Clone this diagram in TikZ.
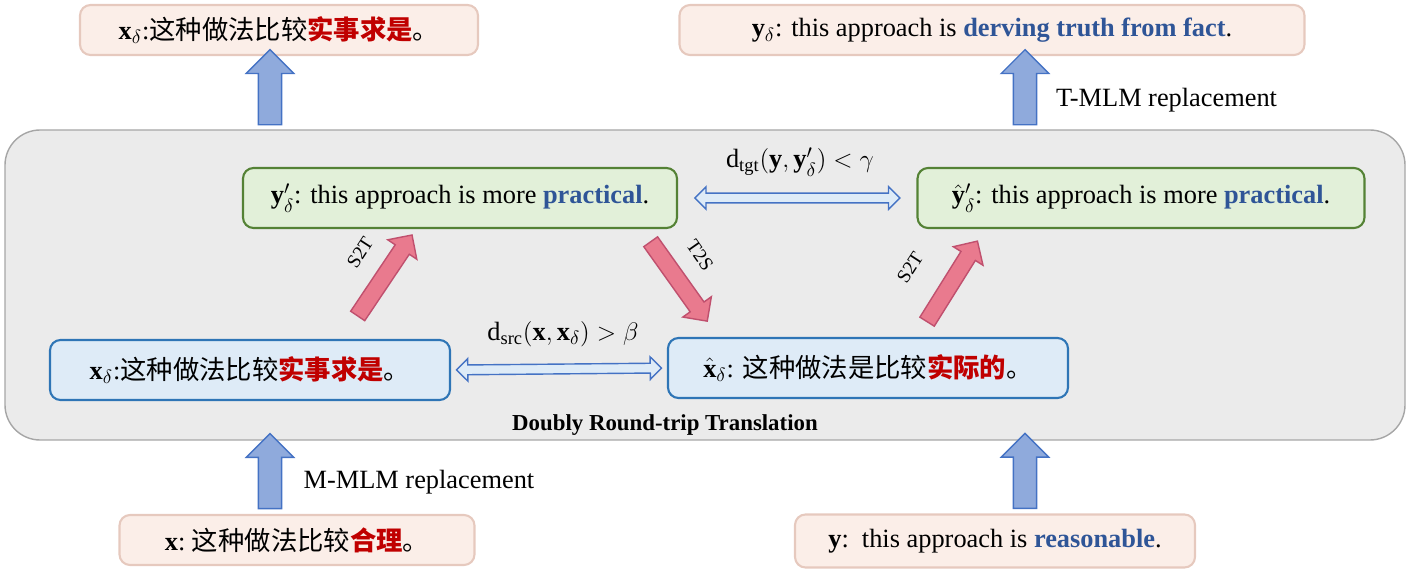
\documentclass[tikz,border=0pt]{standalone}
\usepackage{amsmath}
\usepackage{fontspec}
\setmainfont{Liberation Serif}
\newfontfamily\cjk{Noto Sans CJK SC}
\usetikzlibrary{shapes.arrows,calc}
\definecolor{pinkfill}{HTML}{FBEEE8}
\definecolor{pinkdraw}{HTML}{E6C9BE}
\definecolor{greenfill}{HTML}{E2F0D9}
\definecolor{greendraw}{HTML}{548235}
\definecolor{bluefill}{HTML}{DEEBF7}
\definecolor{bluedraw}{HTML}{2E75B6}
\definecolor{grayfill}{HTML}{EBEBEB}
\definecolor{arrfill}{HTML}{8FAADC}
\definecolor{arrdraw}{HTML}{4472C4}
\definecolor{redfill}{HTML}{E97A8E}
\definecolor{reddraw}{HTML}{C0506E}
\definecolor{hired}{HTML}{C00000}
\definecolor{hiblue}{HTML}{2F5597}
\tikzset{
  pinkbox/.style={draw=pinkdraw, fill=pinkfill, line width=1.2pt, rounded corners=6pt, minimum height=1cm, inner sep=0pt},
  greenbox/.style={draw=greendraw, fill=greenfill, line width=1.2pt, rounded corners=6pt, minimum height=1.2cm, inner sep=0pt},
  bluebox/.style={draw=bluedraw, fill=bluefill, line width=1.2pt, rounded corners=6pt, minimum height=1.2cm, inner sep=0pt},
  uparrow/.style={single arrow, draw=arrdraw, fill=arrfill, line width=0.8pt, minimum width=0.95cm, single arrow head extend=0.12cm, single arrow tip angle=90, inner sep=0.1cm, sloped},
  redarrow/.style={single arrow, draw=reddraw, fill=redfill, line width=0.8pt, minimum width=0.7cm, single arrow head extend=0.1cm, inner sep=0.08cm, sloped},
  dblarrow/.style={double arrow, draw=arrdraw, fill=bluefill, line width=0.8pt, minimum width=0.45cm, double arrow head extend=0.07cm, inner sep=0.04cm, sloped},
  trlabel/.style={font=\fontsize{11}{13}\selectfont, inner sep=1pt}
}
\newcommand{\rd}[1]{\textcolor{hired}{\bfseries #1}}
\newcommand{\bl}[1]{\textcolor{hiblue}{\bfseries #1}}
\begin{document}
\begin{tikzpicture}[font=\fontsize{15}{18}\selectfont]
\useasboundingbox (0,0) rectangle (28.18,11.46);
%Round-trip area
\draw[draw=gray!70, fill=grayfill, line width=0.8pt, rounded corners=20pt] (0.1,2.66) rectangle (28.1,8.86);
\node[font=\fontsize{13}{15}\selectfont\bfseries] (drt) at (13.3,2.96) {Doubly Round-trip Translation};
%Outer boxes
\node[pinkbox, minimum width=7.96cm] (tl) at (5.58,10.86) {$\mathbf{x}_\delta$:{\cjk 这种做法比较\rd{实事求是}。}};
\node[pinkbox, minimum width=12.5cm] (tr) at (19.84,10.86) {$\mathbf{y}_\delta$: this approach is \bl{derving truth from fact}.};
\node[pinkbox, minimum width=7.1cm] (bl) at (5.94,0.66) {$\mathbf{x}$:\ {\cjk 这种做法比较\rd{合理}。}};
\node[pinkbox, minimum width=8cm, minimum height=1.06cm] (br) at (19.9,0.64) {$\mathbf{y}$:\ \ this approach is \bl{reasonable}.};
%Inner boxes
\node[greenbox, minimum width=8.68cm] (g1) at (9.2,7.5) {$\mathbf{y}'_\delta$: this approach is more \bl{practical}.};
\node[greenbox, minimum width=8.94cm] (g2) at (22.82,7.5) {$\hat{\mathbf{y}}'_\delta$: this approach is more \bl{practical}.};
\node[bluebox, minimum width=8cm] (b1) at (5.0,4.06) {$\mathbf{x}_\delta$:{\cjk 这种做法比较\rd{实事求是}。}};
\node[bluebox, minimum width=8cm] (b2) at (17.36,4.1) {$\hat{\mathbf{x}}_\delta$: {\cjk 这种做法是比较\rd{实际的}。}};
%Vertical arrows
\coordinate (a1) at (5.4,8.86);
\coordinate (a2) at (20.5,8.86);
\coordinate (a3) at (5.4,2.66);
\coordinate (a4) at (20.5,2.66);
\path (a1) -- node[uparrow, minimum height=1.5cm] {} (a1 |- tl.south);
\path (a2) -- node[uparrow, minimum height=1.5cm] {} (a2 |- tr.south);
\path (a3 |- bl.north) -- node[uparrow, minimum height=1.5cm] {} (a3);
\path (a4 |- br.north) -- node[uparrow, minimum height=1.5cm] {} (a4);
\node[anchor=west] (tlab) at (21.0,9.46) {T-MLM replacement};
\node[anchor=west] (mlab) at (5.95,1.82) {M-MLM replacement};
%Translation arrows
\coordinate (s1a) at (7.1,5.06);
\coordinate (s1b) at (8.2,6.7);
\coordinate (t1a) at (12.96,6.7);
\coordinate (t1b) at (14.1,5.1);
\coordinate (s2a) at (18.5,4.96);
\coordinate (s2b) at (19.5,6.56);
\path (s1a) -- node[redarrow, minimum height=1.95cm] {} (s1b);
\path (t1a) -- node[redarrow, minimum height=1.95cm] {} (t1b);
\path (s2a) -- node[redarrow, minimum height=1.9cm] {} (s2b);
\node[trlabel, rotate=57] (l1) at (7.2,6.4) {S2T};
\node[trlabel, rotate=-55] (l2) at (14.0,6.35) {T2S};
\node[trlabel, rotate=57] (l3) at (18.2,6.1) {S2T};
%Distance arrows
\path (g1.east) -- node[dblarrow, minimum height=4.1cm] {} (g2.west);
\path (b1.east) -- node[dblarrow, minimum height=4.1cm] {} (b2.west);
\node (dt) at (16.0,8.22) {$\mathrm{d_{tgt}}(\mathbf{y},\mathbf{y}'_\delta)<\gamma$};
\node (ds) at (11.26,4.78) {$\mathrm{d_{src}}(\mathbf{x},\mathbf{x}_\delta)>\beta$};
\end{tikzpicture}
\end{document}
